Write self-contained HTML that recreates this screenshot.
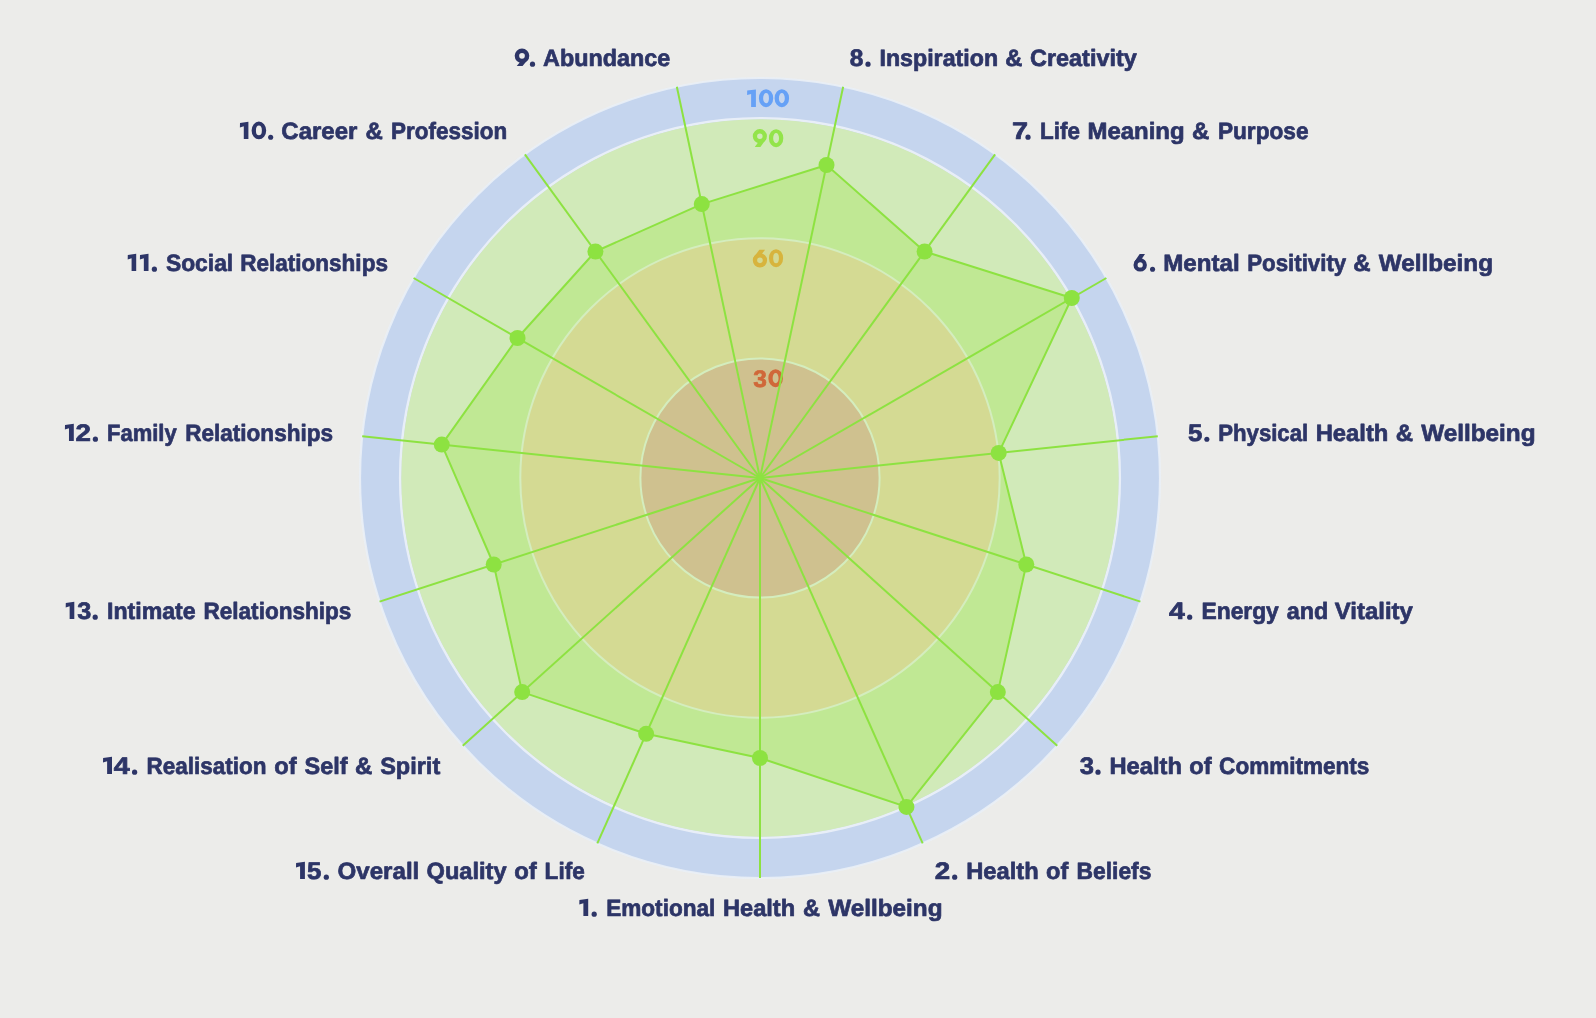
<!DOCTYPE html>
<html><head><meta charset="utf-8"><title>Wheel of Life</title>
<style>
html,body{margin:0;padding:0;background:#ececea;}
body{width:1596px;height:1018px;overflow:hidden;}
svg{display:block;}
text{font-family:"Liberation Sans",sans-serif;font-weight:bold;font-size:23.6px;stroke-width:0.7px;stroke-linejoin:round;text-rendering:geometricPrecision;}
.tk text{font-size:24px;}
.lb text.dg{font-size:23.9px;}
</style></head><body>
<svg width="1596" height="1018" viewBox="0 0 1596 1018">
<rect width="1596" height="1018" fill="#ececea"/>
<circle cx="760" cy="478" r="400.2" fill="#c5d5ee"/>
<circle cx="760" cy="478" r="400" fill="none" stroke="#eaeff6" stroke-opacity="0.9" stroke-width="2.2"/>
<circle cx="760" cy="478" r="359.8" fill="none" stroke="#ffffff" stroke-opacity="0.6" stroke-width="2.6"/>
<circle cx="760" cy="478" r="358.7" fill="#d1eab9"/>
<polygon points="760.00,758.00 906.43,806.88 997.81,692.12 1026.30,564.52 998.69,452.91 1071.77,298.00 924.58,251.48 826.53,164.99 701.78,204.12 595.42,251.48 517.51,338.00 441.75,444.55 493.70,564.52 522.19,692.12 646.11,733.79" fill="#c0e894"/>
<circle cx="760" cy="478" r="239.7" fill="#d4da93" stroke="#d4edbe" stroke-width="2"/>
<circle cx="760" cy="478" r="119.6" fill="#cfc18f" stroke="#d4edbe" stroke-width="2"/>
<g class="tk" opacity="0.999" style="will-change:transform">
<path d="M747.20,90.62 L755.90,89.40 L755.90,106.90 L751.13,106.90 L751.13,93.88 L747.10,95.10Z" fill="#66a1f7"/>
<path d="M758.90,98.15 A7.15,9.00 0 1,0 773.20,98.15 A7.15,9.00 0 1,0 758.90,98.15Z M763.14,98.15 A2.91,5.05 0 1,0 768.96,98.15 A2.91,5.05 0 1,0 763.14,98.15Z" fill="#66a1f7" fill-rule="evenodd"/>
<path d="M774.60,98.15 A7.25,9.00 0 1,0 789.10,98.15 A7.25,9.00 0 1,0 774.60,98.15Z M778.90,98.15 A2.95,5.05 0 1,0 784.80,98.15 A2.95,5.05 0 1,0 778.90,98.15Z" fill="#66a1f7" fill-rule="evenodd"/>
<path d="M752.80,136.15 A7.05,7.05 0 1,0 766.90,136.15 A7.05,7.05 0 1,0 752.80,136.15Z M757.10,136.15 A2.75,2.75 0 1,0 762.60,136.15 A2.75,2.75 0 1,0 757.10,136.15Z" fill="#93e44a" fill-rule="evenodd"/><path d="M754.80,146.90 L760.40,146.90 L766.47,138.56 L759.36,140.65Z" fill="#93e44a"/>
<path d="M768.90,138.15 A7.20,9.00 0 1,0 783.30,138.15 A7.20,9.00 0 1,0 768.90,138.15Z M773.17,138.15 A2.93,5.05 0 1,0 779.03,138.15 A2.93,5.05 0 1,0 773.17,138.15Z" fill="#93e44a" fill-rule="evenodd"/>
<path d="M767.10,260.35 A7.15,7.15 0 1,0 752.80,260.35 A7.15,7.15 0 1,0 767.10,260.35Z M762.74,260.35 A2.79,2.79 0 1,0 757.16,260.35 A2.79,2.79 0 1,0 762.74,260.35Z" fill="#d8b43d" fill-rule="evenodd"/><path d="M765.07,249.70 L759.39,249.70 L753.23,257.90 L760.45,255.85Z" fill="#d8b43d"/>
<path d="M769.00,258.15 A7.05,9.00 0 1,0 783.10,258.15 A7.05,9.00 0 1,0 769.00,258.15Z M773.18,258.15 A2.87,5.05 0 1,0 778.92,258.15 A2.87,5.05 0 1,0 773.18,258.15Z" fill="#d8b43d" fill-rule="evenodd"/>
<text x="753.21" y="386.60" textLength="13.60" lengthAdjust="spacingAndGlyphs" fill="#d16839" stroke="#d16839" class="dg">3</text>
<path d="M768.30,378.15 A7.30,9.00 0 1,0 782.90,378.15 A7.30,9.00 0 1,0 768.30,378.15Z M772.63,378.15 A2.97,5.05 0 1,0 778.57,378.15 A2.97,5.05 0 1,0 772.63,378.15Z" fill="#d16839" fill-rule="evenodd"/>
</g>
<g stroke="#8de241" stroke-width="2">
<line x1="760" y1="478" x2="760.00" y2="878.00"/>
<line x1="760" y1="478" x2="922.69" y2="843.42"/>
<line x1="760" y1="478" x2="1057.26" y2="745.65"/>
<line x1="760" y1="478" x2="1140.42" y2="601.61"/>
<line x1="760" y1="478" x2="1157.81" y2="436.19"/>
<line x1="760" y1="478" x2="1106.41" y2="278.00"/>
<line x1="760" y1="478" x2="995.11" y2="154.39"/>
<line x1="760" y1="478" x2="843.16" y2="86.74"/>
<line x1="760" y1="478" x2="676.84" y2="86.74"/>
<line x1="760" y1="478" x2="524.89" y2="154.39"/>
<line x1="760" y1="478" x2="413.59" y2="278.00"/>
<line x1="760" y1="478" x2="362.19" y2="436.19"/>
<line x1="760" y1="478" x2="379.58" y2="601.61"/>
<line x1="760" y1="478" x2="462.74" y2="745.65"/>
<line x1="760" y1="478" x2="597.31" y2="843.42"/>
</g>
<polygon points="760.00,758.00 906.43,806.88 997.81,692.12 1026.30,564.52 998.69,452.91 1071.77,298.00 924.58,251.48 826.53,164.99 701.78,204.12 595.42,251.48 517.51,338.00 441.75,444.55 493.70,564.52 522.19,692.12 646.11,733.79" fill="none" stroke="#8de241" stroke-width="2" stroke-linejoin="round"/>
<g fill="#8de241">
<circle cx="760.00" cy="758.00" r="8"/>
<circle cx="906.43" cy="806.88" r="8"/>
<circle cx="997.81" cy="692.12" r="8"/>
<circle cx="1026.30" cy="564.52" r="8"/>
<circle cx="998.69" cy="452.91" r="8"/>
<circle cx="1071.77" cy="298.00" r="8"/>
<circle cx="924.58" cy="251.48" r="8"/>
<circle cx="826.53" cy="164.99" r="8"/>
<circle cx="701.78" cy="204.12" r="8"/>
<circle cx="595.42" cy="251.48" r="8"/>
<circle cx="517.51" cy="338.00" r="8"/>
<circle cx="441.75" cy="444.55" r="8"/>
<circle cx="493.70" cy="564.52" r="8"/>
<circle cx="522.19" cy="692.12" r="8"/>
<circle cx="646.11" cy="733.79" r="8"/>
<circle cx="760" cy="478" r="3"/>
</g>
<g class="lb" opacity="0.999" style="will-change:transform">
<g aria-label="1. Emotional Health &amp; Wellbeing">
<path d="M579.40,900.00 L588.20,898.80 L588.20,916.00 L583.38,916.00 L583.38,903.20 L579.30,904.40Z" fill="#2d3567"/>
<circle cx="594.20" cy="914.20" r="2.60" fill="#2d3567"/>
<text x="606.21" y="915.70" textLength="109.12" lengthAdjust="spacingAndGlyphs" fill="#2d3567" stroke="#2d3567">Emotional</text>
<text x="722.97" y="915.70" textLength="72.18" lengthAdjust="spacingAndGlyphs" fill="#2d3567" stroke="#2d3567">Health</text>
<text x="803.04" y="915.70" textLength="17.03" lengthAdjust="spacingAndGlyphs" fill="#2d3567" stroke="#2d3567">&amp;</text>
<text x="828.19" y="915.70" textLength="114.39" lengthAdjust="spacingAndGlyphs" fill="#2d3567" stroke="#2d3567">Wellbeing</text>
</g>
<g aria-label="2. Health of Beliefs">
<text x="934.74" y="878.70" textLength="15.42" lengthAdjust="spacingAndGlyphs" fill="#2d3567" stroke="#2d3567" class="dg">2</text>
<circle cx="954.70" cy="877.20" r="2.60" fill="#2d3567"/>
<text x="966.27" y="878.70" textLength="72.38" lengthAdjust="spacingAndGlyphs" fill="#2d3567" stroke="#2d3567">Health</text>
<text x="1046.09" y="878.70" textLength="22.25" lengthAdjust="spacingAndGlyphs" fill="#2d3567" stroke="#2d3567">of</text>
<text x="1076.50" y="878.70" textLength="74.90" lengthAdjust="spacingAndGlyphs" fill="#2d3567" stroke="#2d3567">Beliefs</text>
</g>
<g aria-label="3. Health of Commitments">
<text x="1079.88" y="773.70" textLength="14.25" lengthAdjust="spacingAndGlyphs" fill="#2d3567" stroke="#2d3567" class="dg">3</text>
<circle cx="1098.00" cy="772.20" r="2.60" fill="#2d3567"/>
<text x="1109.47" y="773.70" textLength="72.38" lengthAdjust="spacingAndGlyphs" fill="#2d3567" stroke="#2d3567">Health</text>
<text x="1189.29" y="773.70" textLength="22.35" lengthAdjust="spacingAndGlyphs" fill="#2d3567" stroke="#2d3567">of</text>
<text x="1219.10" y="773.70" textLength="150.32" lengthAdjust="spacingAndGlyphs" fill="#2d3567" stroke="#2d3567">Commitments</text>
</g>
<g aria-label="4. Energy and Vitality">
<text x="1168.96" y="618.70" textLength="15.82" lengthAdjust="spacingAndGlyphs" fill="#2d3567" stroke="#2d3567" class="dg">4</text>
<circle cx="1189.70" cy="617.20" r="2.60" fill="#2d3567"/>
<text x="1201.50" y="618.70" textLength="77.31" lengthAdjust="spacingAndGlyphs" fill="#2d3567" stroke="#2d3567">Energy</text>
<text x="1286.72" y="618.70" textLength="41.54" lengthAdjust="spacingAndGlyphs" fill="#2d3567" stroke="#2d3567">and</text>
<text x="1334.84" y="618.70" textLength="77.97" lengthAdjust="spacingAndGlyphs" fill="#2d3567" stroke="#2d3567">Vitality</text>
</g>
<g aria-label="5. Physical Health &amp; Wellbeing">
<text x="1188.03" y="440.70" textLength="14.37" lengthAdjust="spacingAndGlyphs" fill="#2d3567" stroke="#2d3567" class="dg">5</text>
<circle cx="1206.85" cy="439.20" r="2.55" fill="#2d3567"/>
<text x="1218.23" y="440.70" textLength="89.97" lengthAdjust="spacingAndGlyphs" fill="#2d3567" stroke="#2d3567">Physical</text>
<text x="1315.66" y="440.70" textLength="72.69" lengthAdjust="spacingAndGlyphs" fill="#2d3567" stroke="#2d3567">Health</text>
<text x="1395.72" y="440.70" textLength="17.35" lengthAdjust="spacingAndGlyphs" fill="#2d3567" stroke="#2d3567">&amp;</text>
<text x="1421.19" y="440.70" textLength="114.39" lengthAdjust="spacingAndGlyphs" fill="#2d3567" stroke="#2d3567">Wellbeing</text>
</g>
<g aria-label="6. Mental Positivity &amp; Wellbeing">
<path d="M1146.90,264.90 A6.70,6.70 0 1,0 1133.50,264.90 A6.70,6.70 0 1,0 1146.90,264.90Z M1142.81,264.90 A2.61,2.61 0 1,0 1137.59,264.90 A2.61,2.61 0 1,0 1142.81,264.90Z" fill="#2d3567" fill-rule="evenodd"/><path d="M1145.00,254.10 L1139.68,254.10 L1133.90,262.61 L1140.67,260.48Z" fill="#2d3567"/>
<circle cx="1152.55" cy="269.20" r="2.55" fill="#2d3567"/>
<text x="1163.25" y="270.70" textLength="76.39" lengthAdjust="spacingAndGlyphs" fill="#2d3567" stroke="#2d3567">Mental</text>
<text x="1247.23" y="270.70" textLength="99.02" lengthAdjust="spacingAndGlyphs" fill="#2d3567" stroke="#2d3567">Positivity</text>
<text x="1353.22" y="270.70" textLength="17.35" lengthAdjust="spacingAndGlyphs" fill="#2d3567" stroke="#2d3567">&amp;</text>
<text x="1378.69" y="270.70" textLength="114.39" lengthAdjust="spacingAndGlyphs" fill="#2d3567" stroke="#2d3567">Wellbeing</text>
</g>
<g aria-label="7. Life Meaning &amp; Purpose">
<text x="1012.06" y="138.70" textLength="16.06" lengthAdjust="spacingAndGlyphs" fill="#2d3567" stroke="#2d3567" class="dg">7</text>
<circle cx="1028.00" cy="137.20" r="2.60" fill="#2d3567"/>
<text x="1040.02" y="138.70" textLength="39.90" lengthAdjust="spacingAndGlyphs" fill="#2d3567" stroke="#2d3567">Life</text>
<text x="1087.56" y="138.70" textLength="97.06" lengthAdjust="spacingAndGlyphs" fill="#2d3567" stroke="#2d3567">Meaning</text>
<text x="1191.92" y="138.70" textLength="17.35" lengthAdjust="spacingAndGlyphs" fill="#2d3567" stroke="#2d3567">&amp;</text>
<text x="1217.91" y="138.70" textLength="90.67" lengthAdjust="spacingAndGlyphs" fill="#2d3567" stroke="#2d3567">Purpose</text>
</g>
<g aria-label="8. Inspiration &amp; Creativity">
<text x="849.87" y="65.70" textLength="13.63" lengthAdjust="spacingAndGlyphs" fill="#2d3567" stroke="#2d3567" class="dg">8</text>
<circle cx="868.00" cy="64.20" r="2.60" fill="#2d3567"/>
<text x="879.49" y="65.70" textLength="118.59" lengthAdjust="spacingAndGlyphs" fill="#2d3567" stroke="#2d3567">Inspiration</text>
<text x="1005.33" y="65.70" textLength="17.14" lengthAdjust="spacingAndGlyphs" fill="#2d3567" stroke="#2d3567">&amp;</text>
<text x="1029.97" y="65.70" textLength="106.86" lengthAdjust="spacingAndGlyphs" fill="#2d3567" stroke="#2d3567">Creativity</text>
</g>
<g aria-label="9. Abundance">
<path d="M514.70,55.80 A7.30,7.30 0 1,0 529.30,55.80 A7.30,7.30 0 1,0 514.70,55.80Z M519.15,55.80 A2.85,2.85 0 1,0 524.85,55.80 A2.85,2.85 0 1,0 519.15,55.80Z" fill="#2d3567" fill-rule="evenodd"/><path d="M516.77,66.00 L522.57,66.00 L528.86,58.30 L521.49,60.22Z" fill="#2d3567"/>
<circle cx="532.50" cy="64.20" r="2.60" fill="#2d3567"/>
<text x="543.02" y="65.70" textLength="127.23" lengthAdjust="spacingAndGlyphs" fill="#2d3567" stroke="#2d3567">Abundance</text>
</g>
<g aria-label="10. Career &amp; Profession">
<path d="M240.00,123.00 L248.40,121.80 L248.40,139.00 L243.79,139.00 L243.79,126.20 L239.90,127.40Z" fill="#2d3567"/>
<path d="M251.60,130.40 A7.30,8.85 0 1,0 266.20,130.40 A7.30,8.85 0 1,0 251.60,130.40Z M255.93,130.40 A2.97,4.90 0 1,0 261.87,130.40 A2.97,4.90 0 1,0 255.93,130.40Z" fill="#2d3567" fill-rule="evenodd"/>
<circle cx="270.65" cy="137.20" r="2.55" fill="#2d3567"/>
<text x="281.34" y="138.70" textLength="76.10" lengthAdjust="spacingAndGlyphs" fill="#2d3567" stroke="#2d3567">Career</text>
<text x="365.52" y="138.70" textLength="17.35" lengthAdjust="spacingAndGlyphs" fill="#2d3567" stroke="#2d3567">&amp;</text>
<text x="391.12" y="138.70" textLength="115.99" lengthAdjust="spacingAndGlyphs" fill="#2d3567" stroke="#2d3567">Profession</text>
</g>
<g aria-label="11. Social Relationships">
<path d="M127.80,255.00 L136.20,253.80 L136.20,271.00 L131.59,271.00 L131.59,258.20 L127.70,259.40Z" fill="#2d3567"/>
<path d="M140.00,255.00 L148.50,253.80 L148.50,271.00 L143.84,271.00 L143.84,258.20 L139.90,259.40Z" fill="#2d3567"/>
<circle cx="154.40" cy="269.20" r="2.60" fill="#2d3567"/>
<text x="165.91" y="270.70" textLength="67.32" lengthAdjust="spacingAndGlyphs" fill="#2d3567" stroke="#2d3567">Social</text>
<text x="240.21" y="270.70" textLength="147.72" lengthAdjust="spacingAndGlyphs" fill="#2d3567" stroke="#2d3567">Relationships</text>
</g>
<g aria-label="12. Family Relationships">
<path d="M65.00,425.00 L73.80,423.80 L73.80,441.00 L68.98,441.00 L68.98,428.20 L64.90,429.40Z" fill="#2d3567"/>
<text x="75.44" y="440.70" textLength="15.42" lengthAdjust="spacingAndGlyphs" fill="#2d3567" stroke="#2d3567" class="dg">2</text>
<circle cx="95.40" cy="439.20" r="2.60" fill="#2d3567"/>
<text x="107.04" y="440.70" textLength="69.67" lengthAdjust="spacingAndGlyphs" fill="#2d3567" stroke="#2d3567">Family</text>
<text x="185.21" y="440.70" textLength="147.83" lengthAdjust="spacingAndGlyphs" fill="#2d3567" stroke="#2d3567">Relationships</text>
</g>
<g aria-label="13. Intimate Relationships">
<path d="M65.80,603.00 L74.30,601.80 L74.30,619.00 L69.64,619.00 L69.64,606.20 L65.70,607.40Z" fill="#2d3567"/>
<text x="77.29" y="618.70" textLength="14.03" lengthAdjust="spacingAndGlyphs" fill="#2d3567" stroke="#2d3567" class="dg">3</text>
<circle cx="95.20" cy="617.20" r="2.60" fill="#2d3567"/>
<text x="106.99" y="618.70" textLength="88.69" lengthAdjust="spacingAndGlyphs" fill="#2d3567" stroke="#2d3567">Intimate</text>
<text x="203.51" y="618.70" textLength="147.83" lengthAdjust="spacingAndGlyphs" fill="#2d3567" stroke="#2d3567">Relationships</text>
</g>
<g aria-label="14. Realisation of Self &amp; Spirit">
<path d="M103.10,758.00 L112.00,756.80 L112.00,774.00 L107.12,774.00 L107.12,761.20 L103.00,762.40Z" fill="#2d3567"/>
<text x="113.86" y="773.70" textLength="15.92" lengthAdjust="spacingAndGlyphs" fill="#2d3567" stroke="#2d3567" class="dg">4</text>
<circle cx="134.60" cy="772.20" r="2.60" fill="#2d3567"/>
<text x="146.52" y="773.70" textLength="119.98" lengthAdjust="spacingAndGlyphs" fill="#2d3567" stroke="#2d3567">Realisation</text>
<text x="274.19" y="773.70" textLength="22.35" lengthAdjust="spacingAndGlyphs" fill="#2d3567" stroke="#2d3567">of</text>
<text x="304.49" y="773.70" textLength="43.09" lengthAdjust="spacingAndGlyphs" fill="#2d3567" stroke="#2d3567">Self</text>
<text x="355.12" y="773.70" textLength="17.35" lengthAdjust="spacingAndGlyphs" fill="#2d3567" stroke="#2d3567">&amp;</text>
<text x="380.19" y="773.70" textLength="60.05" lengthAdjust="spacingAndGlyphs" fill="#2d3567" stroke="#2d3567">Spirit</text>
</g>
<g aria-label="15. Overall Quality of Life">
<path d="M296.10,863.00 L304.90,861.80 L304.90,879.00 L300.08,879.00 L300.08,866.20 L296.00,867.40Z" fill="#2d3567"/>
<text x="307.13" y="878.70" textLength="14.37" lengthAdjust="spacingAndGlyphs" fill="#2d3567" stroke="#2d3567" class="dg">5</text>
<circle cx="326.30" cy="877.20" r="2.60" fill="#2d3567"/>
<text x="337.54" y="878.70" textLength="81.75" lengthAdjust="spacingAndGlyphs" fill="#2d3567" stroke="#2d3567">Overall</text>
<text x="426.56" y="878.70" textLength="80.04" lengthAdjust="spacingAndGlyphs" fill="#2d3567" stroke="#2d3567">Quality</text>
<text x="514.28" y="878.70" textLength="22.55" lengthAdjust="spacingAndGlyphs" fill="#2d3567" stroke="#2d3567">of</text>
<text x="544.61" y="878.70" textLength="40.10" lengthAdjust="spacingAndGlyphs" fill="#2d3567" stroke="#2d3567">Life</text>
</g>
</g>
</svg></body></html>
